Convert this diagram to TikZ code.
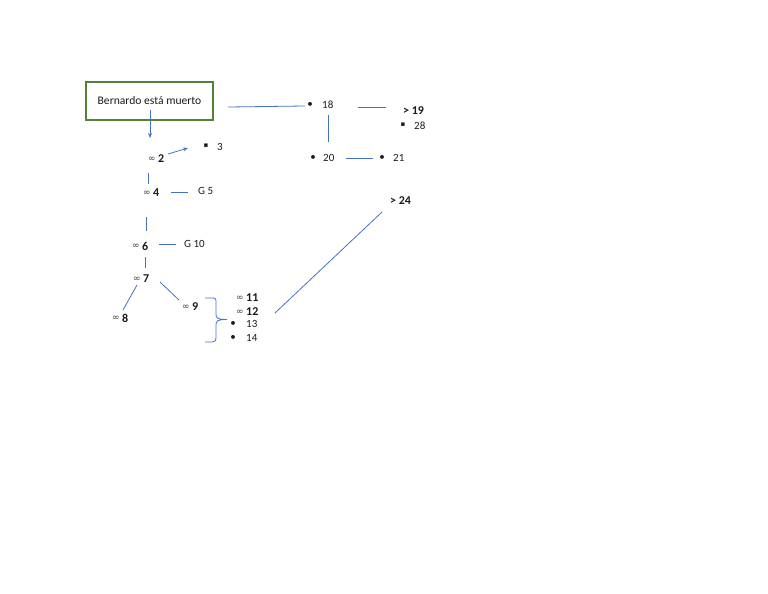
\documentclass[tikz,border=0pt]{standalone}
\usepackage{fontspec}
\setmainfont{Carlito}
\newfontfamily\symfont{DejaVu Sans}
\usetikzlibrary{arrows.meta,decorations.pathreplacing}
\definecolor{lineblue}{HTML}{4472C4}
\definecolor{boxgreen}{HTML}{548235}
\definecolor{txt}{HTML}{1A1A1A}
\tikzset{
  conn/.style={draw=lineblue, line width=0.8pt},
  arr/.style={conn, -{Stealth[length=5pt,width=4pt]}},
  lbl/.style={anchor=west, inner sep=0pt, text=txt, font=\fontsize{11}{12}\selectfont},
  blbl/.style={anchor=west, inner sep=0pt, text=txt, font=\fontsize{12}{13}\selectfont\bfseries},
  inf/.style={anchor=west, inner sep=0pt, text=txt!85, font=\symfont\fontsize{9}{10}\selectfont},
  bul/.style={anchor=center, inner sep=0pt, text=txt, font=\fontsize{11}{12}\selectfont},
  sq/.style={anchor=center, inner sep=0pt, text=txt, font=\symfont\fontsize{7}{8}\selectfont},
  mainbox/.style={draw=boxgreen, line width=1.1pt, minimum width=127pt, minimum height=38pt, inner sep=0pt, text=txt, font=\fontsize{11.6}{13}\selectfont}
}
\begin{document}
\begin{tikzpicture}[x=1pt,y=-1pt]
\useasboundingbox (0,0) rectangle (768,594);
% box
\node[mainbox] (box) at (149.5,101) {Bernardo está muerto};
% texts
\node[inf] (i2) at (148,159) {∞};   \node[blbl] (n2) at (158,159) {2};
\node[sq] (s3) at (206,146) {▪};  \node[lbl] (n3) at (217,147) {3};
\node[inf] (i4) at (143,193) {∞};   \node[blbl] (n4) at (153,193) {4};
\node[lbl] (g5) at (198,191) {G 5};
\node[inf] (i6) at (132,246) {∞};   \node[blbl] (n6) at (142,246) {6};
\node[lbl] (g10) at (184,244) {G 10};
\node[inf] (i7) at (133,279) {∞};   \node[blbl] (n7) at (143,279) {7};
\node[inf] (i8) at (112,318) {∞};   \node[blbl] (n8) at (122,318) {8};
\node[inf] (i9) at (182,307) {∞};   \node[blbl] (n9) at (192,307) {9};
\node[inf] (i11) at (236,298) {∞};  \node[blbl] (n11) at (246,298) {11};
\node[inf] (i12) at (236,312) {∞};  \node[blbl] (n12) at (246,312) {12};
\node[bul] (b13) at (233,324) {•};  \node[lbl] (n13) at (246,324) {13};
\node[bul] (b14) at (233,338) {•};  \node[lbl] (n14) at (246,338) {14};
\node[blbl] (n24) at (390,201) {> 24};
\node[bul] (b18) at (310,105) {•};  \node[lbl] (n18) at (322,105) {18};
\node[blbl] (n19) at (403,111) {> 19};
\node[sq] (s28) at (403,125) {▪}; \node[lbl] (n28) at (414,126) {28};
\node[bul] (b20) at (313,158) {•};  \node[lbl] (n20) at (323,158) {20};
\node[bul] (b21) at (382,158) {•};  \node[lbl] (n21) at (393,158) {21};
% connector end points
\coordinate (a1) at (150,110); \coordinate (a2) at (150,138);
\coordinate (c1) at (168,154); \coordinate (c2) at (188,148);
\coordinate (d1) at (148,173); \coordinate (d2) at (148,184);
\coordinate (e1) at (171,192); \coordinate (e2) at (188,192);
\coordinate (f1) at (146,217); \coordinate (f2) at (146,231);
\coordinate (g1) at (159,244); \coordinate (g2) at (176,244);
\coordinate (h1) at (145,257); \coordinate (h2) at (145,268);
\coordinate (k1) at (137,285); \coordinate (k2) at (123,310);
\coordinate (m1) at (160,282); \coordinate (m2) at (179,300);
\coordinate (p1) at (275,313); \coordinate (p2) at (382,212);
\coordinate (q1) at (228,107); \coordinate (q2) at (305,106);
\coordinate (r1) at (358,107); \coordinate (r2) at (386,107);
\coordinate (t1) at (328,115); \coordinate (t2) at (328,142);
\coordinate (u1) at (346,158); \coordinate (u2) at (373,158);
% connectors
\draw[arr] (a1) -- (a2);
\draw[arr] (c1) -- (c2);
\draw[conn] (d1) -- (d2);
\draw[conn] (e1) -- (e2);
\draw[conn] (f1) -- (f2);
\draw[conn] (g1) -- (g2);
\draw[conn] (h1) -- (h2);
\draw[conn] (k1) -- (k2);
\draw[conn] (m1) -- (m2);
\draw[conn] (p1) -- (p2);
\draw[conn] (q1) -- (q2);
\draw[conn] (r1) -- (r2);
\draw[conn] (t1) -- (t2);
\draw[conn] (u1) -- (u2);
% brace
\draw[conn] (205,298) -- (212,298) .. controls (216,298) and (216,299) .. (216,303) -- (216,314) .. controls (216,318) and (217,319.5) .. (227,319.5) .. controls (217,319.5) and (216,321) .. (216,325) -- (216,337) .. controls (216,341) and (215,342) .. (212,342) -- (205,342);
\end{tikzpicture}
\end{document}
